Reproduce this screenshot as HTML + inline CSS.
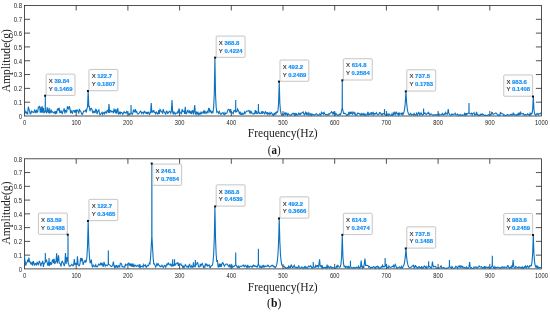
<!DOCTYPE html>
<html><head><meta charset="utf-8"><title>Spectrum</title>
<style>html,body{margin:0;padding:0;background:#fff}svg{display:block}</style></head>
<body><svg width="550" height="312" viewBox="0 0 550 312">
<rect width="550" height="312" fill="#fff"/>
<rect x="24.50" y="5.50" width="517.00" height="110.50" fill="#fff" stroke="none"/>
<rect x="24.50" y="5.50" width="517.00" height="110.50" fill="none" stroke="#262626" stroke-width="0.8"/>
<path d="M76.20 5.50 v5 M76.20 116.00 v-5 M127.90 5.50 v5 M127.90 116.00 v-5 M179.60 5.50 v5 M179.60 116.00 v-5 M231.30 5.50 v5 M231.30 116.00 v-5 M283.00 5.50 v5 M283.00 116.00 v-5 M334.70 5.50 v5 M334.70 116.00 v-5 M386.40 5.50 v5 M386.40 116.00 v-5 M438.10 5.50 v5 M438.10 116.00 v-5 M489.80 5.50 v5 M489.80 116.00 v-5 M24.50 102.19 h5.6 M541.50 102.19 h-5.6 M24.50 88.38 h5.6 M541.50 88.38 h-5.6 M24.50 74.56 h5.6 M541.50 74.56 h-5.6 M24.50 60.75 h5.6 M541.50 60.75 h-5.6 M24.50 46.94 h5.6 M541.50 46.94 h-5.6 M24.50 33.12 h5.6 M541.50 33.12 h-5.6 M24.50 19.31 h5.6 M541.50 19.31 h-5.6" stroke="#262626" stroke-width="0.8" fill="none"/>
<path d="M24.50 108.38 L25.13 111.59 L25.76 113.44 L26.39 111.52 L27.02 113.94 L27.65 113.93 L28.28 106.69 L28.91 109.28 L29.54 111.12 L30.17 113.84 L30.80 113.69 L31.44 110.62 L32.07 112.07 L32.70 111.85 L33.33 112.18 L33.96 112.57 L34.59 110.05 L35.22 110.90 L35.85 113.22 L36.48 109.74 L37.11 112.32 L37.74 112.01 L38.37 107.19 L39.00 107.27 L39.63 106.09 L40.26 112.72 L40.89 107.41 L41.52 112.63 L42.15 106.07 L42.78 112.70 L43.41 107.89 L44.05 112.71 L45.21 111.29 L45.31 95.71 L45.40 111.34 L46.57 112.66 L47.20 107.42 L47.83 111.95 L48.46 112.42 L49.09 107.92 L49.72 113.03 L50.35 112.59 L50.98 109.40 L51.61 112.21 L52.24 111.57 L52.87 111.93 L53.50 112.93 L54.13 113.00 L54.76 111.48 L55.39 114.13 L56.02 111.24 L56.65 113.67 L57.29 109.51 L57.92 108.86 L58.55 110.67 L59.18 107.79 L59.81 112.53 L60.44 112.43 L61.07 110.42 L61.70 112.97 L62.33 113.50 L62.96 110.99 L63.59 110.63 L64.22 108.43 L64.85 113.53 L65.48 109.99 L66.11 111.28 L66.74 112.52 L67.37 106.39 L68.00 108.28 L68.63 108.88 L69.26 106.23 L69.90 108.38 L70.53 113.20 L71.16 110.93 L71.79 112.30 L72.42 113.67 L73.05 110.66 L73.68 110.89 L74.31 110.66 L74.94 112.83 L75.57 109.76 L76.20 112.26 L76.83 109.50 L77.46 110.85 L78.09 111.09 L78.72 113.65 L79.35 108.91 L79.98 110.83 L80.61 111.10 L81.24 112.74 L81.87 114.15 L82.50 114.28 L83.14 112.52 L83.77 111.13 L84.40 111.12 L85.03 111.03 L85.66 109.61 L86.29 112.53 L86.92 108.83 L87.55 106.56 L88.18 91.04 L88.81 106.71 L89.44 106.67 L90.07 111.15 L90.70 108.70 L91.33 108.41 L91.96 109.54 L92.59 112.35 L93.22 111.30 L93.85 112.59 L94.48 111.52 L95.11 112.94 L95.75 109.27 L96.38 109.82 L97.01 114.00 L97.64 111.92 L98.27 110.59 L98.90 109.96 L99.53 114.03 L100.16 114.68 L100.79 113.81 L101.42 113.32 L102.05 112.39 L102.68 114.51 L103.31 113.11 L103.94 112.52 L104.57 113.84 L105.20 111.93 L105.83 112.07 L106.46 112.92 L107.09 110.36 L107.72 110.25 L108.35 113.00 L108.99 103.98 L109.62 113.00 L110.25 110.94 L110.88 110.55 L111.51 111.83 L112.14 111.25 L112.77 111.37 L113.40 113.24 L114.03 108.63 L114.66 111.20 L115.29 112.35 L115.92 109.04 L116.55 113.53 L117.18 111.38 L117.81 108.23 L118.44 114.03 L119.07 113.87 L119.70 111.61 L120.33 114.22 L120.96 112.28 L121.60 112.44 L122.23 113.13 L122.86 114.37 L123.49 112.78 L124.12 111.80 L124.75 112.65 L125.38 112.52 L126.01 113.33 L126.64 111.35 L127.27 111.84 L127.90 113.29 L128.53 114.38 L129.16 113.56 L129.79 114.77 L130.96 113.24 L131.05 104.95 L131.15 112.92 L132.31 114.18 L132.94 112.62 L133.57 109.51 L134.20 111.85 L134.84 111.95 L135.47 109.09 L136.10 112.60 L136.73 111.12 L137.36 113.64 L137.99 114.07 L138.62 113.46 L139.25 113.13 L139.88 111.77 L140.51 111.14 L141.14 112.14 L141.77 113.45 L142.40 112.29 L143.03 112.36 L143.66 113.53 L144.29 111.38 L144.92 112.12 L145.55 112.04 L146.18 113.85 L146.81 111.98 L147.45 114.03 L148.08 112.29 L148.71 112.21 L149.34 114.70 L149.97 112.96 L150.60 112.76 L151.23 103.02 L151.86 112.76 L152.49 111.21 L153.12 111.75 L153.75 110.17 L154.38 112.43 L155.01 112.48 L155.64 113.81 L156.27 112.00 L156.90 112.66 L157.53 114.05 L158.16 113.82 L158.79 110.12 L159.42 113.97 L160.05 109.56 L160.69 110.28 L161.32 111.74 L161.95 111.79 L162.58 113.68 L163.21 109.12 L163.84 111.73 L164.47 112.21 L165.10 113.53 L165.73 114.17 L166.36 111.20 L166.99 111.27 L167.62 113.37 L168.25 113.08 L168.88 111.87 L169.51 111.31 L170.14 111.75 L170.77 113.18 L171.40 111.02 L172.03 100.12 L172.66 112.03 L173.30 114.35 L173.93 111.98 L174.56 112.76 L175.19 114.25 L175.82 113.03 L176.45 113.11 L177.08 113.46 L177.71 111.58 L178.34 112.40 L178.97 108.49 L179.60 111.39 L180.23 112.65 L180.86 113.36 L181.49 113.62 L182.12 109.14 L182.75 111.57 L183.38 111.32 L184.01 111.09 L184.64 113.86 L185.27 106.71 L185.90 113.73 L186.54 113.73 L187.17 111.77 L187.80 109.88 L188.43 111.98 L189.06 112.65 L189.69 111.05 L190.32 112.94 L190.95 111.76 L191.58 113.98 L192.21 110.99 L192.84 110.68 L193.47 114.40 L194.10 111.48 L194.73 104.95 L195.36 113.24 L195.99 114.44 L196.62 112.36 L197.25 113.72 L197.88 112.31 L198.51 114.40 L199.15 113.12 L199.78 114.31 L200.41 114.03 L201.04 111.74 L201.67 113.51 L202.30 112.92 L202.93 112.53 L203.56 110.69 L204.19 113.79 L204.82 111.03 L205.45 112.15 L206.08 113.47 L206.71 111.97 L207.34 111.31 L207.97 113.27 L208.60 108.47 L209.23 108.58 L209.86 112.58 L210.49 110.58 L211.12 111.25 L211.75 113.68 L212.39 111.77 L213.02 112.19 L213.65 107.34 L214.28 94.28 L214.91 57.66 L215.54 94.28 L216.17 107.34 L216.80 112.19 L217.43 111.48 L218.06 112.07 L218.69 113.39 L219.32 111.60 L219.95 113.08 L220.58 114.30 L221.21 114.45 L221.84 113.11 L222.47 112.89 L223.10 112.74 L223.73 114.44 L224.36 114.69 L225.00 112.62 L225.63 113.89 L226.26 113.38 L226.89 113.06 L227.52 111.08 L228.15 109.51 L228.78 109.27 L229.41 109.86 L230.04 112.64 L230.67 109.21 L231.30 113.14 L231.93 112.73 L232.56 112.71 L233.19 113.61 L233.82 110.82 L234.45 110.54 L235.62 112.03 L235.71 100.12 L235.81 112.03 L236.97 111.58 L237.60 109.05 L238.24 110.16 L238.87 111.80 L239.50 113.99 L240.13 111.52 L240.76 114.34 L241.39 114.36 L242.02 113.02 L242.65 114.44 L243.28 113.68 L243.91 114.00 L244.54 111.96 L245.17 113.38 L245.80 112.28 L246.43 111.12 L247.06 111.26 L247.69 110.96 L248.32 110.99 L248.95 110.40 L249.58 112.56 L250.21 111.42 L250.85 113.15 L251.48 111.85 L252.11 113.32 L252.74 113.84 L253.37 113.38 L254.00 114.04 L254.63 113.70 L255.26 110.07 L255.89 113.62 L256.52 110.81 L257.15 113.61 L258.32 113.00 L258.41 103.98 L258.51 111.26 L259.67 113.51 L260.30 113.74 L260.93 113.40 L261.56 111.45 L262.19 113.81 L262.82 111.22 L263.45 112.74 L264.09 112.91 L264.72 114.32 L265.35 111.29 L265.98 112.52 L266.61 113.58 L267.24 112.13 L267.87 114.51 L268.50 113.63 L269.13 112.65 L269.76 114.52 L270.39 114.18 L271.02 112.50 L271.65 113.15 L272.28 114.12 L272.91 115.17 L273.54 115.32 L274.17 112.94 L274.80 115.05 L275.43 112.98 L276.06 113.75 L276.70 111.85 L277.33 112.30 L277.96 110.90 L278.59 103.20 L279.22 81.62 L279.85 103.20 L280.48 110.90 L281.11 113.76 L281.74 114.87 L282.37 113.97 L283.00 114.25 L283.63 114.92 L284.26 113.81 L284.89 112.42 L285.52 115.11 L286.15 113.10 L286.78 113.78 L287.41 115.28 L288.04 113.53 L288.67 114.24 L289.30 114.89 L289.94 115.10 L290.57 114.95 L291.20 115.16 L291.83 114.12 L292.46 113.42 L293.09 113.82 L293.72 113.37 L294.35 115.08 L294.98 113.63 L295.61 114.97 L296.24 113.16 L296.87 115.19 L297.50 115.09 L298.13 114.55 L298.76 113.14 L299.39 114.25 L300.02 113.42 L300.65 114.41 L301.28 113.05 L301.91 113.05 L302.55 112.49 L303.18 111.92 L303.81 114.03 L304.44 114.78 L305.07 113.44 L305.70 112.28 L306.33 114.79 L306.96 112.45 L307.59 114.46 L308.22 115.06 L308.85 112.82 L309.48 113.71 L310.11 115.02 L310.74 113.92 L311.37 115.20 L312.00 113.95 L312.63 114.61 L313.26 114.52 L313.89 115.10 L314.52 115.12 L315.15 114.26 L315.79 114.35 L316.42 113.66 L317.05 114.03 L317.68 115.39 L318.31 115.13 L318.94 115.17 L319.57 113.78 L320.20 114.28 L320.83 115.28 L321.46 112.43 L322.09 113.35 L322.72 113.16 L323.35 114.11 L323.98 111.89 L324.61 113.83 L325.24 114.15 L325.87 114.82 L326.50 114.63 L327.13 114.47 L327.76 115.18 L328.40 114.95 L329.03 113.57 L329.66 114.11 L330.29 113.06 L330.92 112.72 L331.55 111.67 L332.18 112.28 L332.81 113.95 L333.44 112.38 L334.07 113.92 L334.70 112.95 L335.33 115.31 L335.96 113.54 L336.59 114.44 L337.22 115.08 L337.85 115.44 L338.48 114.79 L339.11 114.82 L339.74 114.02 L340.37 114.68 L341.00 113.27 L342.17 107.80 L342.27 80.31 L342.36 107.80 L343.53 113.27 L344.16 113.58 L344.79 113.20 L345.42 113.57 L346.05 114.25 L346.68 115.34 L347.31 114.73 L347.94 115.17 L348.57 112.82 L349.20 114.22 L349.83 112.00 L350.46 114.19 L351.09 111.55 L351.72 113.54 L352.35 114.24 L352.98 112.02 L353.61 112.49 L354.25 113.99 L354.88 112.81 L355.51 114.93 L356.14 115.00 L356.77 115.27 L357.40 113.63 L358.03 113.04 L358.66 113.55 L359.29 113.54 L359.92 114.27 L360.55 114.86 L361.18 113.57 L361.81 115.04 L362.44 113.98 L363.07 114.81 L363.70 113.78 L364.33 115.22 L364.96 113.89 L365.59 115.15 L366.22 115.39 L366.85 114.68 L367.49 112.96 L368.12 114.76 L368.75 113.05 L369.38 114.54 L370.01 114.58 L370.64 113.55 L371.27 112.21 L371.90 115.09 L372.53 112.94 L373.16 112.38 L373.79 114.86 L374.42 113.52 L375.05 113.47 L375.68 113.89 L376.31 112.66 L376.94 113.71 L377.57 114.74 L378.20 114.73 L378.83 114.51 L379.46 112.59 L380.10 112.63 L380.73 113.88 L381.36 113.77 L381.99 115.27 L382.62 113.82 L383.25 113.63 L384.41 114.28 L384.51 109.09 L384.60 114.28 L385.77 115.41 L386.40 114.41 L387.03 113.72 L387.66 115.15 L388.29 115.28 L388.92 113.87 L389.55 114.80 L390.18 115.19 L390.81 115.05 L391.44 115.11 L392.07 113.48 L392.70 115.31 L393.34 114.70 L393.97 111.82 L394.60 113.43 L395.23 115.00 L395.86 112.34 L396.49 112.23 L397.12 113.96 L397.75 113.76 L398.38 114.95 L399.01 112.35 L399.64 114.46 L400.27 113.44 L400.90 113.90 L401.53 114.34 L402.16 112.48 L402.79 114.70 L403.42 113.72 L404.05 111.90 L404.68 108.54 L405.31 102.38 L405.95 91.37 L406.58 102.38 L407.21 108.54 L407.84 111.90 L408.47 113.72 L409.10 114.70 L409.73 114.86 L410.36 113.36 L410.99 113.88 L411.62 114.97 L412.25 114.41 L412.88 114.84 L413.51 115.12 L414.14 113.48 L414.77 114.90 L415.40 115.04 L416.03 114.43 L416.66 113.12 L417.29 115.12 L417.92 114.14 L418.55 112.34 L419.19 112.84 L419.82 115.10 L420.45 114.27 L421.08 112.81 L421.71 114.23 L422.34 114.98 L423.50 114.10 L423.60 108.40 L423.69 114.10 L424.86 112.85 L425.49 114.01 L426.12 114.52 L426.75 114.17 L427.38 113.07 L428.01 113.64 L428.64 112.45 L429.27 113.74 L429.90 115.04 L430.53 114.16 L431.16 113.81 L431.80 114.41 L432.43 114.82 L433.06 115.41 L433.69 114.90 L434.32 114.92 L434.95 114.57 L435.58 115.05 L436.21 114.88 L436.84 114.63 L437.47 115.09 L438.10 114.19 L438.73 113.54 L439.36 114.98 L439.99 114.91 L440.62 114.71 L441.25 114.70 L441.88 114.35 L442.51 113.37 L443.14 114.86 L443.77 114.95 L444.40 113.66 L445.04 114.37 L445.67 112.38 L446.30 113.53 L446.93 114.27 L447.56 114.28 L448.19 109.09 L448.82 112.88 L449.45 114.42 L450.08 114.81 L450.71 115.24 L451.34 115.10 L451.97 113.96 L452.60 114.72 L453.23 114.46 L453.86 114.30 L454.49 114.28 L455.12 113.25 L455.75 114.87 L456.38 115.01 L457.01 114.36 L457.65 113.97 L458.28 115.44 L458.91 115.02 L459.54 115.21 L460.17 114.58 L460.80 115.32 L461.43 115.10 L462.06 114.63 L462.69 115.36 L463.32 115.24 L463.95 115.18 L464.58 113.44 L465.21 115.04 L465.84 113.13 L466.47 114.87 L467.10 113.49 L467.73 113.79 L468.90 112.76 L468.99 103.02 L469.09 112.76 L470.25 114.12 L470.89 113.63 L471.52 113.13 L472.15 115.05 L472.78 113.50 L473.41 113.29 L474.04 112.64 L474.67 115.07 L475.30 114.49 L475.93 114.67 L476.56 111.99 L477.19 114.86 L477.82 114.38 L478.45 115.46 L479.08 115.57 L479.71 114.93 L480.34 115.17 L480.97 114.09 L481.60 114.91 L482.23 114.03 L482.86 114.81 L483.50 114.46 L484.13 115.26 L484.76 115.34 L485.39 115.14 L486.02 115.37 L486.65 115.51 L487.28 115.36 L487.91 115.13 L488.54 114.68 L489.17 115.03 L489.80 115.30 L490.43 114.74 L491.06 114.95 L491.69 112.34 L492.32 112.70 L492.95 114.20 L493.58 114.28 L494.21 113.88 L494.84 113.77 L495.47 112.95 L496.10 112.97 L496.74 113.58 L497.37 114.82 L498.00 115.28 L498.63 114.82 L499.26 114.90 L499.89 115.39 L500.52 112.01 L501.15 113.57 L501.78 113.80 L502.41 113.70 L503.04 113.91 L503.67 115.37 L504.30 114.95 L504.93 115.28 L505.56 115.59 L506.19 115.40 L506.82 115.22 L507.45 114.46 L508.08 114.65 L508.71 115.16 L509.35 114.99 L509.98 114.86 L510.61 115.04 L511.24 114.17 L511.87 115.03 L512.50 115.09 L513.13 113.23 L513.76 114.55 L514.39 114.25 L515.02 115.05 L515.65 114.82 L516.28 115.23 L516.91 114.52 L517.54 114.96 L518.17 113.59 L518.80 114.73 L519.43 112.57 L520.06 114.88 L520.69 112.37 L521.32 113.65 L521.95 113.74 L522.59 113.98 L523.22 113.52 L523.85 114.58 L524.48 115.38 L525.11 114.46 L525.74 114.59 L526.37 115.09 L527.00 114.69 L527.63 113.75 L528.26 114.84 L528.89 114.47 L529.52 115.27 L530.15 113.39 L530.78 114.96 L531.41 113.45 L532.04 113.50 L532.67 109.38 L533.30 96.55 L533.93 109.38 L534.56 113.50 L535.20 114.70 L535.83 115.41 L536.46 114.01 L537.09 113.56 L537.72 114.13 L538.35 114.91 L538.98 113.55 L539.61 113.77 L540.24 113.97 L540.87 112.99 L541.50 113.20" fill="none" stroke="#0a72c0" stroke-width="1.1" stroke-linejoin="miter" stroke-miterlimit="3"/>
<g font-family="Liberation Sans, Arial, sans-serif" font-size="6.4" fill="#222">
<text transform="translate(24.50 124.85) scale(0.9 1)" text-anchor="middle">0</text>
<text transform="translate(76.20 124.85) scale(0.9 1)" text-anchor="middle">100</text>
<text transform="translate(127.90 124.85) scale(0.9 1)" text-anchor="middle">200</text>
<text transform="translate(179.60 124.85) scale(0.9 1)" text-anchor="middle">300</text>
<text transform="translate(231.30 124.85) scale(0.9 1)" text-anchor="middle">400</text>
<text transform="translate(283.00 124.85) scale(0.9 1)" text-anchor="middle">500</text>
<text transform="translate(334.70 124.85) scale(0.9 1)" text-anchor="middle">600</text>
<text transform="translate(386.40 124.85) scale(0.9 1)" text-anchor="middle">700</text>
<text transform="translate(438.10 124.85) scale(0.9 1)" text-anchor="middle">800</text>
<text transform="translate(489.80 124.85) scale(0.9 1)" text-anchor="middle">900</text>
<text transform="translate(541.50 124.85) scale(0.9 1)" text-anchor="middle">1000</text>
<text transform="translate(22.10 118.75) scale(0.94 1)" text-anchor="end">0</text>
<text transform="translate(22.10 104.94) scale(0.94 1)" text-anchor="end">0.1</text>
<text transform="translate(22.10 91.12) scale(0.94 1)" text-anchor="end">0.2</text>
<text transform="translate(22.10 77.31) scale(0.94 1)" text-anchor="end">0.3</text>
<text transform="translate(22.10 63.50) scale(0.94 1)" text-anchor="end">0.4</text>
<text transform="translate(22.10 49.69) scale(0.94 1)" text-anchor="end">0.5</text>
<text transform="translate(22.10 35.87) scale(0.94 1)" text-anchor="end">0.6</text>
<text transform="translate(22.10 22.06) scale(0.94 1)" text-anchor="end">0.7</text>
<text transform="translate(22.10 8.25) scale(0.94 1)" text-anchor="end">0.8</text>
</g>
<text transform="translate(10.4 60.75) rotate(-90)" text-anchor="middle" font-family="Liberation Serif, serif" font-size="11.6" fill="#222">Amplitude(g)</text>
<text x="282.7" y="137.10" text-anchor="middle" font-family="Liberation Serif, serif" font-size="11.55" fill="#222">Frequency(Hz)</text>
<text transform="translate(274.2 153.60) scale(0.89 1)" text-anchor="middle" font-family="Liberation Serif, serif" font-size="12.3" fill="#111">(<tspan font-weight="bold">a</tspan>)</text>
<rect x="46.10" y="74.11" width="28.90" height="21.30" rx="1" fill="#fdfdfd" stroke="#b8b8b8" stroke-width="0.8"/>
<g font-family="Liberation Sans, Arial, sans-serif" font-size="5.95"><text x="48.80" y="82.81" fill="#1c1c1c" stroke="#1c1c1c" stroke-width="0.12">X <tspan font-weight="bold" fill="#1790f5" stroke="#1790f5" stroke-width="0.18">39.84</tspan></text><text x="48.80" y="90.61" fill="#1c1c1c" stroke="#1c1c1c" stroke-width="0.12">Y <tspan font-weight="bold" fill="#1790f5" stroke="#1790f5" stroke-width="0.18">0.1469</tspan></text></g>
<rect x="44.10" y="94.71" width="2" height="2" fill="#111"/>
<rect x="88.94" y="69.44" width="28.90" height="21.30" rx="1" fill="#fdfdfd" stroke="#b8b8b8" stroke-width="0.8"/>
<g font-family="Liberation Sans, Arial, sans-serif" font-size="5.95"><text x="91.64" y="78.14" fill="#1c1c1c" stroke="#1c1c1c" stroke-width="0.12">X <tspan font-weight="bold" fill="#1790f5" stroke="#1790f5" stroke-width="0.18">122.7</tspan></text><text x="91.64" y="85.94" fill="#1c1c1c" stroke="#1c1c1c" stroke-width="0.12">Y <tspan font-weight="bold" fill="#1790f5" stroke="#1790f5" stroke-width="0.18">0.1807</tspan></text></g>
<rect x="86.94" y="90.04" width="2" height="2" fill="#111"/>
<rect x="216.17" y="36.06" width="28.90" height="21.30" rx="1" fill="#fdfdfd" stroke="#b8b8b8" stroke-width="0.8"/>
<g font-family="Liberation Sans, Arial, sans-serif" font-size="5.95"><text x="218.87" y="44.76" fill="#1c1c1c" stroke="#1c1c1c" stroke-width="0.12">X <tspan font-weight="bold" fill="#1790f5" stroke="#1790f5" stroke-width="0.18">368.8</tspan></text><text x="218.87" y="52.56" fill="#1c1c1c" stroke="#1c1c1c" stroke-width="0.12">Y <tspan font-weight="bold" fill="#1790f5" stroke="#1790f5" stroke-width="0.18">0.4224</tspan></text></g>
<rect x="214.17" y="56.66" width="2" height="2" fill="#111"/>
<rect x="279.97" y="60.02" width="28.90" height="21.30" rx="1" fill="#fdfdfd" stroke="#b8b8b8" stroke-width="0.8"/>
<g font-family="Liberation Sans, Arial, sans-serif" font-size="5.95"><text x="282.67" y="68.72" fill="#1c1c1c" stroke="#1c1c1c" stroke-width="0.12">X <tspan font-weight="bold" fill="#1790f5" stroke="#1790f5" stroke-width="0.18">492.2</tspan></text><text x="282.67" y="76.52" fill="#1c1c1c" stroke="#1c1c1c" stroke-width="0.12">Y <tspan font-weight="bold" fill="#1790f5" stroke="#1790f5" stroke-width="0.18">0.2489</tspan></text></g>
<rect x="277.97" y="80.62" width="2" height="2" fill="#111"/>
<rect x="343.35" y="58.71" width="28.90" height="21.30" rx="1" fill="#fdfdfd" stroke="#b8b8b8" stroke-width="0.8"/>
<g font-family="Liberation Sans, Arial, sans-serif" font-size="5.95"><text x="346.05" y="67.41" fill="#1c1c1c" stroke="#1c1c1c" stroke-width="0.12">X <tspan font-weight="bold" fill="#1790f5" stroke="#1790f5" stroke-width="0.18">614.8</tspan></text><text x="346.05" y="75.21" fill="#1c1c1c" stroke="#1c1c1c" stroke-width="0.12">Y <tspan font-weight="bold" fill="#1790f5" stroke="#1790f5" stroke-width="0.18">0.2584</tspan></text></g>
<rect x="341.35" y="79.31" width="2" height="2" fill="#111"/>
<rect x="406.79" y="69.77" width="28.90" height="21.30" rx="1" fill="#fdfdfd" stroke="#b8b8b8" stroke-width="0.8"/>
<g font-family="Liberation Sans, Arial, sans-serif" font-size="5.95"><text x="409.49" y="78.47" fill="#1c1c1c" stroke="#1c1c1c" stroke-width="0.12">X <tspan font-weight="bold" fill="#1790f5" stroke="#1790f5" stroke-width="0.18">737.5</tspan></text><text x="409.49" y="86.27" fill="#1c1c1c" stroke="#1c1c1c" stroke-width="0.12">Y <tspan font-weight="bold" fill="#1790f5" stroke="#1790f5" stroke-width="0.18">0.1783</tspan></text></g>
<rect x="404.79" y="90.37" width="2" height="2" fill="#111"/>
<rect x="503.72" y="74.95" width="28.90" height="21.30" rx="1" fill="#fdfdfd" stroke="#b8b8b8" stroke-width="0.8"/>
<g font-family="Liberation Sans, Arial, sans-serif" font-size="5.95"><text x="506.42" y="83.65" fill="#1c1c1c" stroke="#1c1c1c" stroke-width="0.12">X <tspan font-weight="bold" fill="#1790f5" stroke="#1790f5" stroke-width="0.18">983.6</tspan></text><text x="506.42" y="91.45" fill="#1c1c1c" stroke="#1c1c1c" stroke-width="0.12">Y <tspan font-weight="bold" fill="#1790f5" stroke="#1790f5" stroke-width="0.18">0.1408</tspan></text></g>
<rect x="532.02" y="95.55" width="2" height="2" fill="#111"/>
<rect x="24.50" y="158.80" width="517.00" height="110.10" fill="#fff" stroke="none"/>
<rect x="24.50" y="158.80" width="517.00" height="110.10" fill="none" stroke="#262626" stroke-width="0.8"/>
<path d="M76.20 158.80 v5 M76.20 268.90 v-5 M127.90 158.80 v5 M127.90 268.90 v-5 M179.60 158.80 v5 M179.60 268.90 v-5 M231.30 158.80 v5 M231.30 268.90 v-5 M283.00 158.80 v5 M283.00 268.90 v-5 M334.70 158.80 v5 M334.70 268.90 v-5 M386.40 158.80 v5 M386.40 268.90 v-5 M438.10 158.80 v5 M438.10 268.90 v-5 M489.80 158.80 v5 M489.80 268.90 v-5 M24.50 255.14 h5.6 M541.50 255.14 h-5.6 M24.50 241.38 h5.6 M541.50 241.38 h-5.6 M24.50 227.61 h5.6 M541.50 227.61 h-5.6 M24.50 213.85 h5.6 M541.50 213.85 h-5.6 M24.50 200.09 h5.6 M541.50 200.09 h-5.6 M24.50 186.32 h5.6 M541.50 186.32 h-5.6 M24.50 172.56 h5.6 M541.50 172.56 h-5.6" stroke="#262626" stroke-width="0.8" fill="none"/>
<path d="M24.50 255.14 L24.59 257.89 L25.76 265.64 L26.39 263.28 L27.02 262.26 L27.65 260.48 L28.28 262.18 L28.91 257.62 L29.54 261.82 L30.17 261.80 L30.80 263.98 L31.44 264.06 L32.07 261.94 L32.70 265.74 L33.33 261.19 L33.96 263.13 L34.59 264.84 L35.22 263.72 L35.85 263.81 L36.48 265.51 L37.11 261.82 L37.74 264.04 L38.37 264.67 L39.00 261.79 L39.63 261.39 L40.26 263.56 L40.89 266.25 L41.52 263.14 L42.15 263.04 L42.78 260.87 L43.41 266.91 L44.05 263.53 L45.21 262.34 L45.31 252.94 L45.40 262.06 L46.57 260.21 L47.20 262.76 L47.83 265.61 L48.99 260.85 L49.09 257.89 L49.18 265.98 L50.35 262.16 L50.98 264.52 L51.61 264.12 L52.24 260.37 L52.87 259.65 L53.50 263.16 L54.13 258.94 L54.76 263.95 L55.39 262.40 L56.02 261.04 L56.65 253.36 L57.29 263.48 L57.92 259.54 L58.55 255.29 L59.18 263.05 L59.81 263.27 L60.44 264.22 L61.07 266.50 L61.70 262.05 L62.33 261.31 L62.96 262.47 L63.59 263.93 L64.22 266.00 L64.85 263.71 L65.48 252.94 L66.11 263.83 L66.74 257.20 L67.91 262.42 L68.00 234.66 L68.10 262.42 L69.26 266.16 L69.90 266.19 L70.53 265.85 L71.16 265.17 L71.79 264.41 L72.42 265.26 L73.05 265.82 L73.68 264.55 L74.31 259.14 L74.94 265.17 L75.57 262.87 L76.20 264.34 L76.83 264.55 L77.46 256.23 L78.09 264.64 L78.72 265.47 L79.35 265.75 L79.98 263.81 L80.61 257.96 L81.24 261.31 L81.87 257.98 L82.50 259.91 L83.14 264.89 L83.77 262.45 L84.40 261.83 L85.03 260.10 L85.66 262.59 L86.29 260.85 L86.92 256.98 L87.55 245.02 L88.18 220.94 L88.81 245.02 L89.44 256.98 L90.07 262.79 L90.70 262.62 L91.33 259.58 L91.96 265.16 L92.59 267.44 L93.22 265.04 L93.85 265.78 L94.48 266.29 L95.11 266.67 L95.75 264.89 L96.38 266.49 L97.01 266.83 L97.64 266.39 L98.27 264.86 L98.90 263.95 L99.53 265.15 L100.16 264.90 L100.79 262.56 L101.42 265.24 L102.05 262.77 L102.68 265.27 L103.31 266.76 L103.94 262.05 L104.57 263.89 L105.20 266.23 L105.83 265.02 L106.46 265.33 L107.09 265.70 L108.26 264.30 L108.35 250.46 L108.45 264.30 L109.62 264.88 L110.25 265.69 L110.88 266.35 L111.51 266.62 L112.14 265.82 L112.77 264.72 L113.40 261.69 L114.03 266.06 L114.66 267.46 L115.29 265.34 L115.92 267.73 L116.55 265.56 L117.18 265.91 L117.81 267.71 L118.44 265.74 L119.07 265.71 L119.70 266.71 L120.33 263.33 L120.96 263.57 L121.60 264.08 L122.23 266.92 L122.86 266.58 L123.49 266.99 L124.12 266.80 L124.75 267.23 L125.38 264.39 L126.01 265.28 L126.64 264.96 L127.27 264.08 L127.90 264.94 L128.53 263.09 L129.16 263.16 L129.79 265.78 L130.42 264.33 L131.05 266.32 L131.68 263.62 L132.31 266.81 L132.94 263.49 L133.57 266.24 L134.20 265.15 L134.84 266.39 L135.47 265.32 L136.10 265.73 L136.73 266.43 L137.36 265.95 L137.99 265.06 L138.62 266.27 L139.25 267.09 L139.88 264.04 L140.51 267.26 L141.14 266.43 L141.77 266.16 L142.40 265.92 L143.03 267.53 L143.66 264.45 L144.29 265.46 L144.92 266.03 L145.55 265.13 L146.18 267.35 L146.81 266.56 L147.45 265.52 L148.08 265.84 L148.71 265.23 L149.34 263.04 L149.97 263.72 L150.60 257.38 L151.76 236.67 L151.86 163.56 L151.95 236.67 L153.12 257.38 L153.75 263.85 L154.38 263.87 L155.01 265.41 L155.64 267.14 L156.27 265.78 L156.90 263.85 L157.53 265.23 L158.16 263.69 L158.79 264.67 L159.42 266.16 L160.05 265.94 L160.69 266.79 L161.32 266.40 L161.95 265.19 L162.58 266.29 L163.21 267.42 L163.84 266.62 L164.47 265.42 L165.10 265.47 L165.73 267.54 L166.36 265.44 L166.99 264.05 L167.62 264.77 L168.25 263.01 L168.88 264.15 L169.51 264.08 L170.14 265.05 L170.77 263.62 L171.40 265.98 L172.57 264.21 L172.66 259.27 L172.76 266.50 L174.46 263.85 L174.56 259.27 L174.65 266.02 L175.82 263.85 L176.45 263.74 L177.08 262.95 L177.71 262.64 L178.34 266.00 L178.97 263.76 L179.60 264.31 L180.23 264.26 L180.86 263.86 L181.49 265.48 L182.12 265.36 L182.75 267.37 L183.38 266.24 L184.01 267.76 L184.64 266.32 L185.27 264.68 L185.90 265.31 L186.54 266.91 L187.17 267.10 L187.80 266.21 L188.43 267.24 L189.06 265.14 L189.69 264.41 L190.32 267.24 L190.95 267.17 L191.58 265.88 L192.21 267.19 L192.84 267.15 L193.47 262.28 L194.10 266.72 L195.27 266.70 L195.36 260.09 L195.46 265.70 L196.62 263.99 L197.25 262.53 L197.88 263.20 L198.51 266.69 L199.15 266.83 L199.78 266.78 L200.41 263.91 L201.04 265.73 L201.67 264.38 L202.30 263.46 L202.93 265.37 L203.56 267.39 L204.19 266.45 L204.82 267.27 L205.45 263.54 L206.08 264.95 L206.71 264.29 L207.34 265.99 L207.97 265.05 L208.60 265.72 L209.23 265.10 L209.86 267.28 L210.49 267.55 L211.12 265.79 L211.75 265.76 L212.39 265.30 L213.02 261.88 L213.65 254.59 L214.28 239.12 L214.91 206.43 L215.54 239.12 L216.17 254.59 L216.80 261.88 L217.43 260.02 L218.06 266.72 L218.69 267.13 L219.32 263.61 L219.95 266.89 L220.58 263.98 L221.21 266.85 L221.84 264.25 L222.47 262.77 L223.10 263.02 L223.73 264.73 L224.36 266.18 L225.00 265.06 L225.63 264.54 L226.26 264.05 L226.89 263.98 L227.52 264.36 L228.15 265.87 L228.78 266.44 L229.41 265.00 L230.04 267.07 L230.67 265.56 L231.30 266.93 L231.93 265.29 L232.56 267.23 L233.19 266.73 L233.82 266.00 L234.45 266.13 L235.62 264.78 L235.71 252.38 L235.81 264.78 L236.97 266.61 L237.60 267.50 L238.24 266.11 L238.87 267.57 L239.50 267.51 L240.13 266.13 L240.76 266.19 L241.39 266.39 L242.02 266.07 L242.65 265.82 L243.28 265.00 L243.91 266.34 L244.54 266.66 L245.17 265.33 L245.80 265.30 L246.43 266.94 L247.06 267.69 L247.69 264.98 L248.32 267.01 L248.95 266.58 L249.58 267.19 L250.21 266.19 L250.85 266.15 L251.48 266.88 L252.11 267.34 L252.74 265.84 L253.37 265.22 L254.00 266.38 L254.63 265.59 L255.26 266.40 L255.89 266.21 L256.52 266.71 L257.15 267.21 L258.32 263.85 L258.41 248.67 L258.51 263.85 L259.67 267.21 L260.30 266.25 L260.93 267.29 L261.56 267.75 L262.19 265.39 L262.82 266.94 L263.45 265.60 L264.09 267.14 L264.72 265.99 L265.35 266.52 L265.98 265.94 L266.61 266.43 L267.24 266.32 L267.87 265.04 L268.50 265.63 L269.13 266.83 L269.76 267.13 L270.39 266.41 L271.02 266.08 L271.65 265.51 L272.28 266.00 L272.91 265.26 L273.54 266.21 L274.17 267.21 L274.80 266.58 L275.43 267.52 L276.06 266.54 L276.70 264.70 L277.33 261.20 L277.96 254.50 L278.59 241.86 L279.22 218.45 L279.85 241.86 L280.48 254.50 L281.11 261.20 L281.74 264.70 L282.37 265.86 L283.00 266.52 L283.63 266.32 L284.26 266.34 L284.89 267.67 L285.52 267.42 L286.15 268.10 L286.78 268.13 L287.41 267.51 L288.04 268.17 L288.67 266.17 L289.30 267.45 L289.94 266.51 L290.57 267.91 L291.20 264.59 L291.83 265.89 L292.46 267.40 L293.09 267.41 L293.72 266.24 L294.35 265.25 L294.98 267.47 L295.61 267.53 L296.24 267.57 L296.87 267.24 L297.50 267.98 L298.13 267.46 L298.76 265.83 L299.39 267.22 L300.02 268.06 L300.65 268.07 L301.28 267.29 L301.91 266.82 L302.55 267.75 L303.18 267.70 L303.81 268.40 L304.44 266.89 L305.07 267.76 L305.70 266.45 L306.33 267.24 L306.96 268.21 L307.59 268.31 L308.22 266.40 L308.85 266.03 L309.48 266.62 L310.11 266.66 L310.74 265.71 L311.37 266.71 L312.00 268.06 L313.17 267.18 L313.26 262.02 L313.36 267.18 L314.52 267.10 L315.15 267.63 L315.79 265.46 L316.42 266.66 L317.05 265.82 L317.68 265.56 L318.31 267.67 L318.94 264.55 L319.57 259.27 L320.20 266.15 L320.83 265.96 L321.46 267.35 L322.09 265.09 L322.72 268.15 L323.35 267.52 L323.98 267.62 L324.61 267.49 L325.24 267.15 L325.87 268.02 L326.50 267.79 L327.13 264.72 L327.76 268.05 L328.40 266.29 L329.03 267.04 L329.66 267.77 L330.29 266.88 L330.92 266.45 L331.55 268.19 L332.18 268.08 L332.81 267.51 L333.44 267.81 L334.07 267.86 L334.70 268.04 L335.33 268.01 L335.96 268.13 L336.59 265.72 L337.22 267.18 L337.85 265.36 L338.48 266.05 L339.11 267.15 L339.74 267.39 L340.37 266.64 L341.00 263.85 L341.64 256.23 L342.27 234.85 L342.90 256.23 L343.53 263.85 L344.16 266.68 L344.79 266.23 L345.42 267.51 L346.05 266.29 L346.68 267.26 L347.31 266.80 L347.94 267.92 L348.57 265.84 L349.20 267.98 L350.37 266.84 L350.46 260.64 L350.56 266.84 L351.72 267.85 L352.35 267.78 L352.98 268.00 L353.61 267.43 L354.25 267.50 L354.88 268.09 L355.51 268.01 L356.14 267.17 L356.77 267.50 L357.40 267.41 L358.03 267.65 L358.66 266.28 L359.29 268.06 L359.92 267.98 L360.55 266.84 L361.18 260.64 L361.81 266.61 L362.44 267.98 L363.07 266.01 L363.70 268.04 L364.33 263.50 L364.96 258.58 L365.59 265.33 L366.22 265.27 L366.85 265.50 L367.49 265.34 L368.12 265.80 L368.75 267.18 L369.38 266.42 L370.01 267.30 L370.64 268.31 L371.27 267.35 L371.90 267.54 L372.53 267.57 L373.16 266.76 L373.79 266.58 L374.42 267.71 L375.05 267.23 L375.68 268.26 L376.31 266.58 L376.94 266.60 L377.57 266.29 L378.20 267.94 L378.83 267.11 L379.46 268.32 L380.10 268.37 L380.73 267.58 L381.36 266.53 L381.99 267.16 L382.62 265.26 L383.25 266.80 L383.88 266.64 L385.04 266.15 L385.14 257.89 L385.23 266.15 L386.40 264.69 L387.03 267.23 L387.66 267.71 L388.29 267.99 L388.92 265.90 L389.55 267.00 L390.18 267.33 L390.81 267.44 L391.44 267.09 L392.07 266.64 L392.70 266.54 L393.34 265.44 L393.97 267.69 L394.60 265.95 L395.23 264.41 L395.86 265.89 L396.49 267.95 L397.12 268.16 L397.75 267.56 L398.38 267.75 L399.01 267.41 L399.64 266.87 L400.27 267.74 L400.90 268.02 L401.53 266.44 L402.16 267.99 L402.79 267.40 L403.42 265.66 L404.05 264.67 L404.68 261.70 L405.31 256.67 L405.95 248.42 L406.58 256.67 L407.21 261.70 L407.84 264.67 L408.47 266.40 L409.10 267.39 L409.73 267.99 L410.36 267.84 L410.99 267.17 L411.62 266.98 L412.25 265.85 L412.88 265.92 L413.51 265.30 L414.14 267.99 L414.77 267.18 L415.40 265.21 L416.03 266.90 L416.66 266.90 L417.29 268.16 L417.92 268.32 L418.55 266.67 L419.19 266.66 L419.82 267.57 L420.45 267.47 L421.08 267.97 L421.71 266.06 L422.34 268.18 L422.97 268.19 L423.60 267.36 L424.23 266.01 L424.86 266.60 L425.49 267.44 L426.12 266.47 L426.75 268.38 L427.38 267.11 L428.55 266.52 L428.64 261.33 L428.74 267.01 L429.90 266.38 L430.53 267.43 L431.16 268.06 L431.80 267.25 L432.43 261.54 L433.06 265.91 L433.69 266.91 L434.32 266.47 L434.95 266.32 L435.58 266.52 L436.21 268.11 L436.84 268.14 L437.47 267.76 L438.10 267.82 L438.73 267.74 L439.36 268.03 L439.99 267.83 L440.62 266.17 L441.25 266.01 L441.88 268.08 L442.51 267.99 L443.14 267.88 L443.77 267.43 L444.40 268.02 L445.04 268.20 L445.67 268.23 L446.30 268.15 L446.93 267.97 L447.56 268.09 L448.19 267.61 L449.35 266.67 L449.45 259.95 L449.54 266.67 L450.71 267.46 L451.34 268.23 L451.97 266.49 L452.60 267.59 L453.23 268.04 L453.86 268.18 L454.49 268.27 L455.12 267.81 L455.75 266.32 L456.38 266.63 L457.01 267.45 L457.65 268.24 L458.28 266.24 L458.91 266.54 L459.54 265.93 L460.17 267.83 L460.80 265.80 L461.43 266.22 L462.06 267.53 L462.69 266.46 L463.32 267.31 L463.95 267.60 L464.58 267.47 L465.21 268.12 L465.84 267.96 L466.47 266.93 L467.10 268.37 L467.73 267.95 L468.36 268.29 L468.99 267.18 L469.62 262.02 L470.25 267.18 L470.89 268.32 L471.52 267.61 L472.15 268.26 L472.78 268.47 L473.41 268.14 L474.04 267.06 L474.67 267.78 L475.30 267.37 L475.93 266.81 L476.56 267.37 L477.19 268.09 L477.82 267.29 L478.45 266.96 L479.08 265.94 L479.71 266.88 L480.34 267.17 L480.97 266.76 L481.60 266.62 L482.23 268.25 L482.86 267.67 L483.50 267.32 L484.13 268.30 L484.76 266.19 L485.39 267.85 L486.02 266.95 L486.65 267.15 L487.28 267.82 L487.91 267.16 L488.54 266.88 L489.17 268.10 L489.80 267.16 L490.43 267.76 L491.06 267.53 L492.23 265.60 L492.32 255.69 L492.42 265.60 L493.58 267.79 L494.21 268.38 L494.84 266.65 L495.47 268.01 L496.10 267.44 L496.74 267.88 L497.37 267.30 L498.00 267.03 L498.63 267.61 L499.26 268.06 L499.89 267.68 L500.52 268.05 L501.15 267.24 L501.78 267.77 L502.41 266.86 L503.04 266.75 L503.67 267.75 L504.30 267.47 L504.93 266.82 L505.56 267.11 L506.19 267.73 L506.82 267.70 L507.45 265.77 L508.08 265.65 L508.71 267.35 L509.35 268.18 L509.98 267.62 L510.61 267.60 L511.24 266.18 L511.87 267.78 L512.50 266.67 L513.13 259.95 L513.76 266.67 L514.39 267.73 L515.02 268.15 L515.65 266.47 L516.28 267.08 L516.91 267.37 L517.54 267.65 L518.17 267.49 L518.80 266.71 L519.43 267.34 L520.06 267.24 L520.69 267.63 L521.32 267.29 L521.95 268.12 L522.59 266.89 L523.22 268.17 L523.85 268.30 L524.48 266.69 L525.11 266.99 L525.74 265.85 L526.37 268.13 L527.00 266.61 L527.63 265.97 L528.26 267.28 L528.89 267.73 L529.52 265.88 L530.15 265.55 L530.78 266.19 L531.41 265.53 L532.04 261.82 L532.67 253.55 L533.30 235.06 L533.93 253.55 L534.56 261.82 L535.20 265.53 L535.83 267.11 L536.46 266.09 L537.09 267.89 L537.72 266.46 L538.35 267.91 L538.98 267.17 L539.61 267.74 L540.24 267.58 L540.87 267.47 L541.50 267.88" fill="none" stroke="#0a72c0" stroke-width="1.1" stroke-linejoin="miter" stroke-miterlimit="3"/>
<g font-family="Liberation Sans, Arial, sans-serif" font-size="6.4" fill="#222">
<text transform="translate(24.50 277.75) scale(0.9 1)" text-anchor="middle">0</text>
<text transform="translate(76.20 277.75) scale(0.9 1)" text-anchor="middle">100</text>
<text transform="translate(127.90 277.75) scale(0.9 1)" text-anchor="middle">200</text>
<text transform="translate(179.60 277.75) scale(0.9 1)" text-anchor="middle">300</text>
<text transform="translate(231.30 277.75) scale(0.9 1)" text-anchor="middle">400</text>
<text transform="translate(283.00 277.75) scale(0.9 1)" text-anchor="middle">500</text>
<text transform="translate(334.70 277.75) scale(0.9 1)" text-anchor="middle">600</text>
<text transform="translate(386.40 277.75) scale(0.9 1)" text-anchor="middle">700</text>
<text transform="translate(438.10 277.75) scale(0.9 1)" text-anchor="middle">800</text>
<text transform="translate(489.80 277.75) scale(0.9 1)" text-anchor="middle">900</text>
<text transform="translate(541.50 277.75) scale(0.9 1)" text-anchor="middle">1000</text>
<text transform="translate(22.10 271.65) scale(0.94 1)" text-anchor="end">0</text>
<text transform="translate(22.10 257.89) scale(0.94 1)" text-anchor="end">0.1</text>
<text transform="translate(22.10 244.12) scale(0.94 1)" text-anchor="end">0.2</text>
<text transform="translate(22.10 230.36) scale(0.94 1)" text-anchor="end">0.3</text>
<text transform="translate(22.10 216.60) scale(0.94 1)" text-anchor="end">0.4</text>
<text transform="translate(22.10 202.84) scale(0.94 1)" text-anchor="end">0.5</text>
<text transform="translate(22.10 189.07) scale(0.94 1)" text-anchor="end">0.6</text>
<text transform="translate(22.10 175.31) scale(0.94 1)" text-anchor="end">0.7</text>
<text transform="translate(22.10 161.55) scale(0.94 1)" text-anchor="end">0.8</text>
</g>
<text transform="translate(10.4 213.05) rotate(-90)" text-anchor="middle" font-family="Liberation Serif, serif" font-size="11.6" fill="#222">Amplitude(g)</text>
<text x="282.7" y="290.50" text-anchor="middle" font-family="Liberation Serif, serif" font-size="11.55" fill="#222">Frequency(Hz)</text>
<text transform="translate(274.2 306.90) scale(0.95 1)" text-anchor="middle" font-family="Liberation Serif, serif" font-size="12.3" fill="#111">(<tspan font-weight="bold">b</tspan>)</text>
<rect x="38.42" y="213.06" width="28.90" height="21.30" rx="1" fill="#fdfdfd" stroke="#b8b8b8" stroke-width="0.8"/>
<g font-family="Liberation Sans, Arial, sans-serif" font-size="5.95"><text x="41.12" y="221.76" fill="#1c1c1c" stroke="#1c1c1c" stroke-width="0.12">X <tspan font-weight="bold" fill="#1790f5" stroke="#1790f5" stroke-width="0.18">83.59</tspan></text><text x="41.12" y="229.56" fill="#1c1c1c" stroke="#1c1c1c" stroke-width="0.12">Y <tspan font-weight="bold" fill="#1790f5" stroke="#1790f5" stroke-width="0.18">0.2488</tspan></text></g>
<rect x="66.72" y="233.66" width="2" height="2" fill="#111"/>
<rect x="88.94" y="199.34" width="28.90" height="21.30" rx="1" fill="#fdfdfd" stroke="#b8b8b8" stroke-width="0.8"/>
<g font-family="Liberation Sans, Arial, sans-serif" font-size="5.95"><text x="91.64" y="208.04" fill="#1c1c1c" stroke="#1c1c1c" stroke-width="0.12">X <tspan font-weight="bold" fill="#1790f5" stroke="#1790f5" stroke-width="0.18">122.7</tspan></text><text x="91.64" y="215.84" fill="#1c1c1c" stroke="#1c1c1c" stroke-width="0.12">Y <tspan font-weight="bold" fill="#1790f5" stroke="#1790f5" stroke-width="0.18">0.3485</tspan></text></g>
<rect x="86.94" y="219.94" width="2" height="2" fill="#111"/>
<rect x="152.73" y="164.06" width="28.90" height="21.30" rx="1" fill="#fdfdfd" stroke="#b8b8b8" stroke-width="0.8"/>
<g font-family="Liberation Sans, Arial, sans-serif" font-size="5.95"><text x="155.43" y="172.76" fill="#1c1c1c" stroke="#1c1c1c" stroke-width="0.12">X <tspan font-weight="bold" fill="#1790f5" stroke="#1790f5" stroke-width="0.18">246.1</tspan></text><text x="155.43" y="180.56" fill="#1c1c1c" stroke="#1c1c1c" stroke-width="0.12">Y <tspan font-weight="bold" fill="#1790f5" stroke="#1790f5" stroke-width="0.18">0.7654</tspan></text></g>
<rect x="150.73" y="162.56" width="2" height="2" fill="#111"/>
<rect x="216.17" y="184.83" width="28.90" height="21.30" rx="1" fill="#fdfdfd" stroke="#b8b8b8" stroke-width="0.8"/>
<g font-family="Liberation Sans, Arial, sans-serif" font-size="5.95"><text x="218.87" y="193.53" fill="#1c1c1c" stroke="#1c1c1c" stroke-width="0.12">X <tspan font-weight="bold" fill="#1790f5" stroke="#1790f5" stroke-width="0.18">368.8</tspan></text><text x="218.87" y="201.33" fill="#1c1c1c" stroke="#1c1c1c" stroke-width="0.12">Y <tspan font-weight="bold" fill="#1790f5" stroke="#1790f5" stroke-width="0.18">0.4539</tspan></text></g>
<rect x="214.17" y="205.43" width="2" height="2" fill="#111"/>
<rect x="279.97" y="196.85" width="28.90" height="21.30" rx="1" fill="#fdfdfd" stroke="#b8b8b8" stroke-width="0.8"/>
<g font-family="Liberation Sans, Arial, sans-serif" font-size="5.95"><text x="282.67" y="205.55" fill="#1c1c1c" stroke="#1c1c1c" stroke-width="0.12">X <tspan font-weight="bold" fill="#1790f5" stroke="#1790f5" stroke-width="0.18">492.2</tspan></text><text x="282.67" y="213.35" fill="#1c1c1c" stroke="#1c1c1c" stroke-width="0.12">Y <tspan font-weight="bold" fill="#1790f5" stroke="#1790f5" stroke-width="0.18">0.3666</tspan></text></g>
<rect x="277.97" y="217.45" width="2" height="2" fill="#111"/>
<rect x="343.35" y="213.25" width="28.90" height="21.30" rx="1" fill="#fdfdfd" stroke="#b8b8b8" stroke-width="0.8"/>
<g font-family="Liberation Sans, Arial, sans-serif" font-size="5.95"><text x="346.05" y="221.95" fill="#1c1c1c" stroke="#1c1c1c" stroke-width="0.12">X <tspan font-weight="bold" fill="#1790f5" stroke="#1790f5" stroke-width="0.18">614.8</tspan></text><text x="346.05" y="229.75" fill="#1c1c1c" stroke="#1c1c1c" stroke-width="0.12">Y <tspan font-weight="bold" fill="#1790f5" stroke="#1790f5" stroke-width="0.18">0.2474</tspan></text></g>
<rect x="341.35" y="233.85" width="2" height="2" fill="#111"/>
<rect x="406.79" y="226.82" width="28.90" height="21.30" rx="1" fill="#fdfdfd" stroke="#b8b8b8" stroke-width="0.8"/>
<g font-family="Liberation Sans, Arial, sans-serif" font-size="5.95"><text x="409.49" y="235.52" fill="#1c1c1c" stroke="#1c1c1c" stroke-width="0.12">X <tspan font-weight="bold" fill="#1790f5" stroke="#1790f5" stroke-width="0.18">737.5</tspan></text><text x="409.49" y="243.32" fill="#1c1c1c" stroke="#1c1c1c" stroke-width="0.12">Y <tspan font-weight="bold" fill="#1790f5" stroke="#1790f5" stroke-width="0.18">0.1488</tspan></text></g>
<rect x="404.79" y="247.42" width="2" height="2" fill="#111"/>
<rect x="503.72" y="213.46" width="28.90" height="21.30" rx="1" fill="#fdfdfd" stroke="#b8b8b8" stroke-width="0.8"/>
<g font-family="Liberation Sans, Arial, sans-serif" font-size="5.95"><text x="506.42" y="222.16" fill="#1c1c1c" stroke="#1c1c1c" stroke-width="0.12">X <tspan font-weight="bold" fill="#1790f5" stroke="#1790f5" stroke-width="0.18">983.6</tspan></text><text x="506.42" y="229.96" fill="#1c1c1c" stroke="#1c1c1c" stroke-width="0.12">Y <tspan font-weight="bold" fill="#1790f5" stroke="#1790f5" stroke-width="0.18">0.2459</tspan></text></g>
<rect x="532.02" y="234.06" width="2" height="2" fill="#111"/>
</svg></body></html>
